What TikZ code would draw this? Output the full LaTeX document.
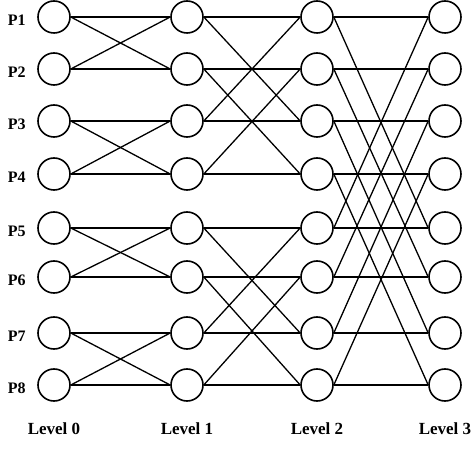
\documentclass[tikz,border=0pt]{standalone}
\usepackage{fontspec}
\setmainfont{Liberation Serif}
\usetikzlibrary{positioning}

\begin{document}
\begin{tikzpicture}[x=1pt,y=-1pt,
    pe/.style={circle,draw,line width=1.6pt,minimum size=32pt,inner sep=0pt},
    wire/.style={line width=1.3pt},
    lbl/.style={font=\fontsize{16}{18}\selectfont\bfseries}]
  \useasboundingbox (0,0) rectangle (474,462);
  \foreach \l/\x in {0/54,1/187,2/317,3/445}
    {\foreach \r/\y in {1/17,2/69,3/121,4/174,5/228,6/277,7/333,8/385}
      \node[pe] (n\l\r) at (\x,\y) {};
     \node[lbl,font=\fontsize{17}{19}\selectfont\bfseries] (lv\l) at (\x,429) {Level \l};}
  \foreach \r in {1,...,8}
    \node[lbl,left=8pt of n0\r,yshift=-3pt] (p\r) {P\r};
  \foreach \l/\d in {0/1,1/2,2/4}
    {\pgfmathtruncatemacro\m{\l+1}
     \foreach \r in {1,...,8}
      {\pgfmathtruncatemacro\s{mod(floor((\r-1)/\d),2)==0 ? \r+\d : \r-\d}
       \draw[wire] (n\l\r.east) -- (n\m\r.west);
       \draw[wire] (n\l\r.east) -- (n\m\s.west);}}
\end{tikzpicture}
\end{document}
